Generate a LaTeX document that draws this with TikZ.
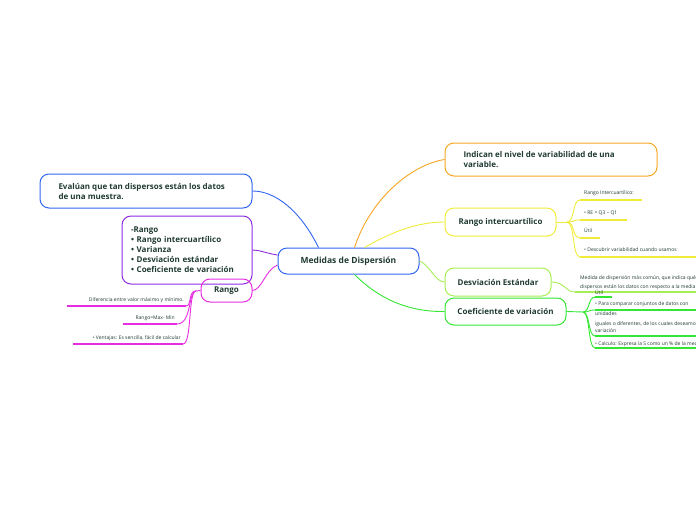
\documentclass[tikz,border=0pt]{standalone}
\usepackage{fontspec}
\setmainfont{Open Sans}
\begin{document}
\begin{tikzpicture}[x=1pt,y=-1pt,
  box/.style={draw,line width=1pt,rounded corners=9pt,inner sep=0pt,text=txt,font=\fontsize{8}{10}\selectfont\bfseries},
  lbl/.style={inner sep=0pt,text=txt,font=\fontsize{5}{6.5}\selectfont},
  con/.style={line width=0.9pt},
  ul/.style={line width=1.3pt}]
\definecolor{txt}{HTML}{1F3A30}
\definecolor{colB}{HTML}{3366EE}
\definecolor{colO}{HTML}{F5A623}
\definecolor{colY}{HTML}{F0EC3A}
\definecolor{colL}{HTML}{A6EE55}
\definecolor{colG}{HTML}{33E633}
\definecolor{colP}{HTML}{8E2BE0}
\definecolor{colM}{HTML}{E62EE0}
\useasboundingbox (0,0) rectangle (696,520);
% nodes
\node[box,draw=colB,minimum width=141pt,minimum height=26pt,font=\fontsize{8.5}{10}\selectfont\bfseries] (c) at (348.5,261) {Medidas de Dispersión};
\node[box,draw=colO,minimum width=212pt,minimum height=33pt] (o) at (551,159.5) {\parbox{175pt}{\raggedright Indican el nivel de variabilidad de una variable.}\hspace{18pt}};
\node[box,draw=colY,minimum width=111pt,minimum height=28pt] (y) at (500.5,222) {Rango intercuartílico};
\node[box,draw=colL,minimum width=106pt,minimum height=28pt] (l) at (498,282) {Desviación Estándar};
\node[box,draw=colG,minimum width=121pt,minimum height=27pt] (g) at (505.5,311.5) {Coeficiente de variación};
\node[box,draw=colB,minimum width=212pt,minimum height=34pt] (b) at (146,191) {\parbox{175pt}{\raggedright Evalúan que tan dispersos están los datos de una muestra.}\hspace{18pt}};
\node[box,draw=colP,minimum width=130pt,minimum height=68pt,text width=112pt,align=left] (p) at (187,250) {-Rango\\• Rango intercuartílico\\• Varianza\\• Desviación estándar\\• Coeficiente de variación};
\node[box,draw=colM,minimum width=51pt,minimum height=23pt] (m) at (226.5,290.5) {Rango};
% center connectors
\draw[con,colO] (c.north) ++(6,0) coordinate (c1) .. controls (370,200) and (410,165) .. (o.west);
\draw[con,colY] (c.north) ++(16,0) coordinate (c2) .. controls (395,230) and (420,222) .. (y.west);
\draw[con,colL] (c.east) .. controls (430,265) and (435,282) .. (l.west);
\draw[con,colG] (c.south) ++(6,0) coordinate (c3) .. controls (380,300) and (410,312) .. (g.west);
\draw[con,colB] (c.north) ++(-30,0) coordinate (c4) .. controls (300,210) and (275,191) .. (b.east);
\draw[con,colP] (c.west) ++(0,-6) coordinate (c5) .. controls (265,253) and (260,250) .. (p.east);
\draw[con,colM] (c.west) ++(0,4) coordinate (c6) .. controls (265,270) and (262,290) .. (m.east);
% yellow branch
\coordinate (yf) at (567,222);
\draw[con,colY] (y.east) -- (yf);
\foreach \yy/\xe/\t in {200/642/{Rango Intercuartílico:},220/627/{• RE = Q3 – Q1},238/600/{Útil},257/696/{• Descubrir variabilidad cuando usamos}}{
  \draw[con,colY] (yf) .. controls (575,222) and (572,\yy) .. (580,\yy);
  \draw[ul,colY] (580,\yy) -- (\xe,\yy);
  \node[lbl,anchor=base west] at (584,\yy-6) {\t};
}
% light green
\draw[con,colL] (l.east) .. controls (565,282) and (565,292) .. (575,292);
\draw[ul,colL] (575,292) -- (696,292);
\node[lbl,anchor=base west] at (580,279) {Medida de dispersión más común, que indica qué tan};
\node[lbl,anchor=base west] at (580,288) {dispersos están los datos con respecto a la media};
% green branch
\coordinate (gf) at (583,312);
\draw[con,colG] (g.east) -- (gf);
\foreach \yy/\xe in {297/612,310/696,336/696,348/696}{
  \draw[con,colG] (gf) .. controls (590,312) and (588,\yy) .. (595,\yy);
  \draw[ul,colG] (595,\yy) -- (\xe,\yy);
}
\node[lbl,anchor=base west] at (595,294) {Útil};
\node[lbl,anchor=base west] at (595,305) {• Para comparar conjuntos de datos con};
\node[lbl,anchor=base west] at (595,315) {unidades};
\node[lbl,anchor=base west] at (595,325) {iguales o diferentes, de los cuales deseamos};
\node[lbl,anchor=base west] at (595,332) {variación};
\node[lbl,anchor=base west] at (595,345) {• Calculo: Expresa la S como un \% de la media};
% magenta branch
\coordinate (mf) at (196,291);
\draw[con,colM] (m.west) -- (mf);
\foreach \yy/\xs/\xe/\t in {306/67/186/{Diferencia entre valor máximo y mínimo.},324/123/177/{Rango=Max- Min},344/73/183/{• Ventajas: Es sencilla, fácil de calcular}}{
  \draw[con,colM] (mf) .. controls (188,291) and (192,\yy) .. (\xe,\yy);
  \draw[ul,colM] (\xs,\yy) -- (\xe,\yy);
  \node[lbl,anchor=base east] at (\xe-2,\yy-5) {\t};
}
\end{tikzpicture}
\end{document}
